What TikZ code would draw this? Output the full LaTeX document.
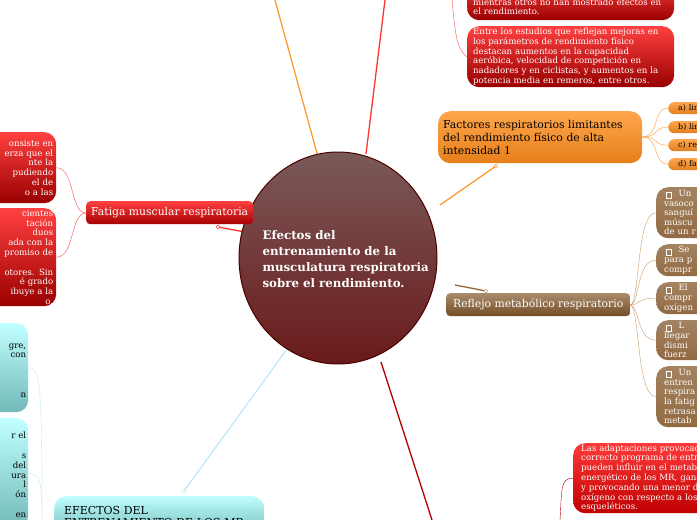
\documentclass[tikz,border=0pt]{standalone}
\usepackage{fontspec}
\setmainfont{DejaVu Serif}
\usetikzlibrary{shapes.geometric}
\begin{document}
\begin{tikzpicture}[x=1pt,y=-1pt,
  box/.style={anchor=north west,rounded corners=12pt,inner sep=0pt,align=left},
  redbox/.style={box,top color=red!75!white,bottom color=red!60!black,text=white,font=\fontsize{8.6}{9.8}\selectfont},
  tealbox/.style={box,top color=cyan!25,bottom color=teal!55,text=black,font=\fontsize{8.6}{9.8}\selectfont},
  brownbox/.style={box,top color=brown!70!black!75,bottom color=brown!70!black!90,text=white,font=\fontsize{8.6}{9.6}\selectfont},
  pill/.style={box,rounded corners=6pt,top color=orange!70,bottom color=orange!50!brown,text=black,font=\fontsize{8}{9}\selectfont,minimum height=12pt,text width=40pt,inner xsep=10pt},
  dot/.style={circle,draw,inner sep=1.3pt,fill=white}]
\useasboundingbox (0,0) rectangle (697,520);
\clip (0,0) rectangle (697,520);
% connectors to center
\coordinate (tO) at (275,0); \coordinate (tR) at (385,0);
\coordinate (bR) at (432,520);
\draw[orange!80,line width=1.3pt] (tO) -- (318,157);
\draw[red!80,line width=1.3pt] (tR) -- (366,154);
\draw[red!70!black,line width=1.3pt] (bR) -- (381,362);
\draw[cyan!25,line width=1.3pt] (184,491) -- (290,345);
\draw[orange!80,line width=1.3pt] (496,166) -- (440,205);
\draw[brown!80!black,line width=1.3pt] (486,291) -- (455,285);
\draw[red!80,line width=1.3pt] (218,227) -- (245,232);
% center
\node[ellipse,minimum width=198pt,minimum height=212pt,draw=red!30!black,line width=1pt,top color=red!20!black!65,bottom color=red!35!black!90,inner sep=0pt] (c) at (338,258) {};
\node[anchor=west,text=white,font=\bfseries\fontsize{11.8}{16}\selectfont,align=left] (ct) at (259,259) {Efectos del\\entrenamiento de la\\musculatura respiratoria\\sobre el rendimiento.};
% top red
\node[redbox,text width=195pt,minimum height=40pt,inner xsep=6pt] (r1) at (467,-20) {\mbox{}\\\mbox{}\\mientras otros no han mostrado efectos en\\el rendimiento.};
\node[redbox,text width=195pt,minimum height=61pt,inner xsep=6pt] (r2) at (467,26) {Entre los estudios que reflejan mejoras en\\los parámetros de rendimiento físico\\destacan aumentos en la capacidad\\aeróbica, velocidad de competición en\\nadadores y en ciclistas, y aumentos en la\\potencia media en remeros, entre otros.};
\draw[red!70] (452,0) .. controls (455,30) and (456,50) .. (r2.west);
% factores
\node[box,top color=orange!70,bottom color=orange!60!brown,text=black,font=\fontsize{10.8}{13}\selectfont,text width=194pt,minimum height=52pt,inner xsep=5pt] (f) at (438,111) {Factores respiratorios limitantes\\del rendimiento físico de alta\\intensidad 1};
\node[dot,draw=orange] at (496,166) {};
\foreach \y/\t [count=\i] in {102/a) lim,121/b) lim,139/c) re,158/d) fa}{
  \node[pill] (p\i) at (668,\y) {\t};
  \draw[orange!80] (642,137) .. controls (660,137) and (652,\y+6) .. (p\i.west);
}
% reflejo
\node[box,rounded corners=4pt,top color=brown!70!black!70,bottom color=brown!60!black,text=white,font=\fontsize{10.8}{13}\selectfont,minimum width=184pt,minimum height=23pt,inner xsep=6pt,anchor=north west] (m) at (446,293) {Reflejo metabólico respiratorio};
\node[dot,draw=brown] at (486,291) {};
\foreach \y/\h/\t [count=\i] in {187/51/{\quad\ \ Un\\vasoco\\sanguí\\múscu\\de un r},244/32/{\quad\ \ Se\\para p\\compr},282/32/{\quad\ \ El\\compr\\oxígen},320/40/{\quad\ \ L\\llegar\\dismi\\fuerz},366/61/{\quad\ \ Un\\entren\\respira\\la fatig\\retrasa\\metab}}{
  \node[brownbox,text width=50pt,minimum height=\h pt,inner xsep=8pt] (b\i) at (656,\y) {\t};
  \draw[brown!80] (630,305) .. controls (640,305) and (636,\y+\h/2) .. (b\i.west);
  \draw[white] (666,\y+5) rectangle +(5,6);
}
% bottom pink
\node[box,top color=red!70!pink,bottom color=red!75!black,text=white,font=\fontsize{8.6}{9.8}\selectfont,text width=130pt,minimum height=70pt,inner xsep=8pt] (pk) at (573,443) {Las adaptaciones provocada\\correcto programa de entre\\pueden influir en el metabo\\energético de los MR, ganan\\y provocando una menor de\\oxígeno con respecto a los\\esqueléticos.};
\draw[red!70!black] (560,520) .. controls (562,490) and (560,478) .. (pk.west);
% fatiga
\node[box,rounded corners=4pt,top color=red!75!white,bottom color=red!65!black,text=white,font=\fontsize{10.8}{13}\selectfont,minimum width=167pt,minimum height=23pt,inner xsep=5pt] (fa) at (86,201) {Fatiga muscular respiratoria};
\node[dot,draw=red] at (218,227) {};
\node[redbox,align=right,text width=110pt,minimum height=71pt,inner xsep=3pt] (l1) at (-60,132) {onsiste en\\erza que el\\nte la\hspace{22pt}\\pudiendo\\el de\hspace{24pt}\\o a las\hspace{20pt}};
\node[redbox,align=right,text width=110pt,minimum height=98pt,inner xsep=3pt] (l2) at (-60,208) {cientes\hspace{2pt}\\tación\hspace{9pt}\\duos\hspace{20pt}\\ada con la\\promiso de\\\mbox{}\\otores. Sin\\é grado\hspace{9pt}\\ibuye a la\\o.\hspace{40pt}};
\draw[red!70] (86,213) .. controls (70,213) and (75,168) .. (l1.east);
\draw[red!70] (86,213) .. controls (70,213) and (75,257) .. (l2.east);
% teal
\node[tealbox,align=right,text width=84pt,minimum height=89pt,inner xsep=2pt] (t1) at (-60,323) {\mbox{}\\gre,\\con\\\mbox{}\\\mbox{}\\\mbox{}\\n\hspace{9pt}};
\node[tealbox,align=right,text width=84pt,minimum height=110pt,inner xsep=2pt] (t2) at (-60,418) {\mbox{}\\r el\\\mbox{}\\s\hspace{10pt}\\del\\ura\\l\hspace{10pt}\\ón\\\mbox{}\\en};
\draw[cyan!25] (42,520) .. controls (42,380) and (40,368) .. (t1.east);
\draw[cyan!25] (42,520) .. controls (42,480) and (40,475) .. (t2.east);
\node[tealbox,text width=190pt,minimum height=40pt,inner xsep=10pt,font=\fontsize{11}{12}\selectfont,align=left] (ef) at (54,496) {EFECTOS DEL\\ENTRENAMIENTO DE LOS MR};
\node[dot,draw=cyan!30] at (184,491) {};
\end{tikzpicture}
\end{document}
